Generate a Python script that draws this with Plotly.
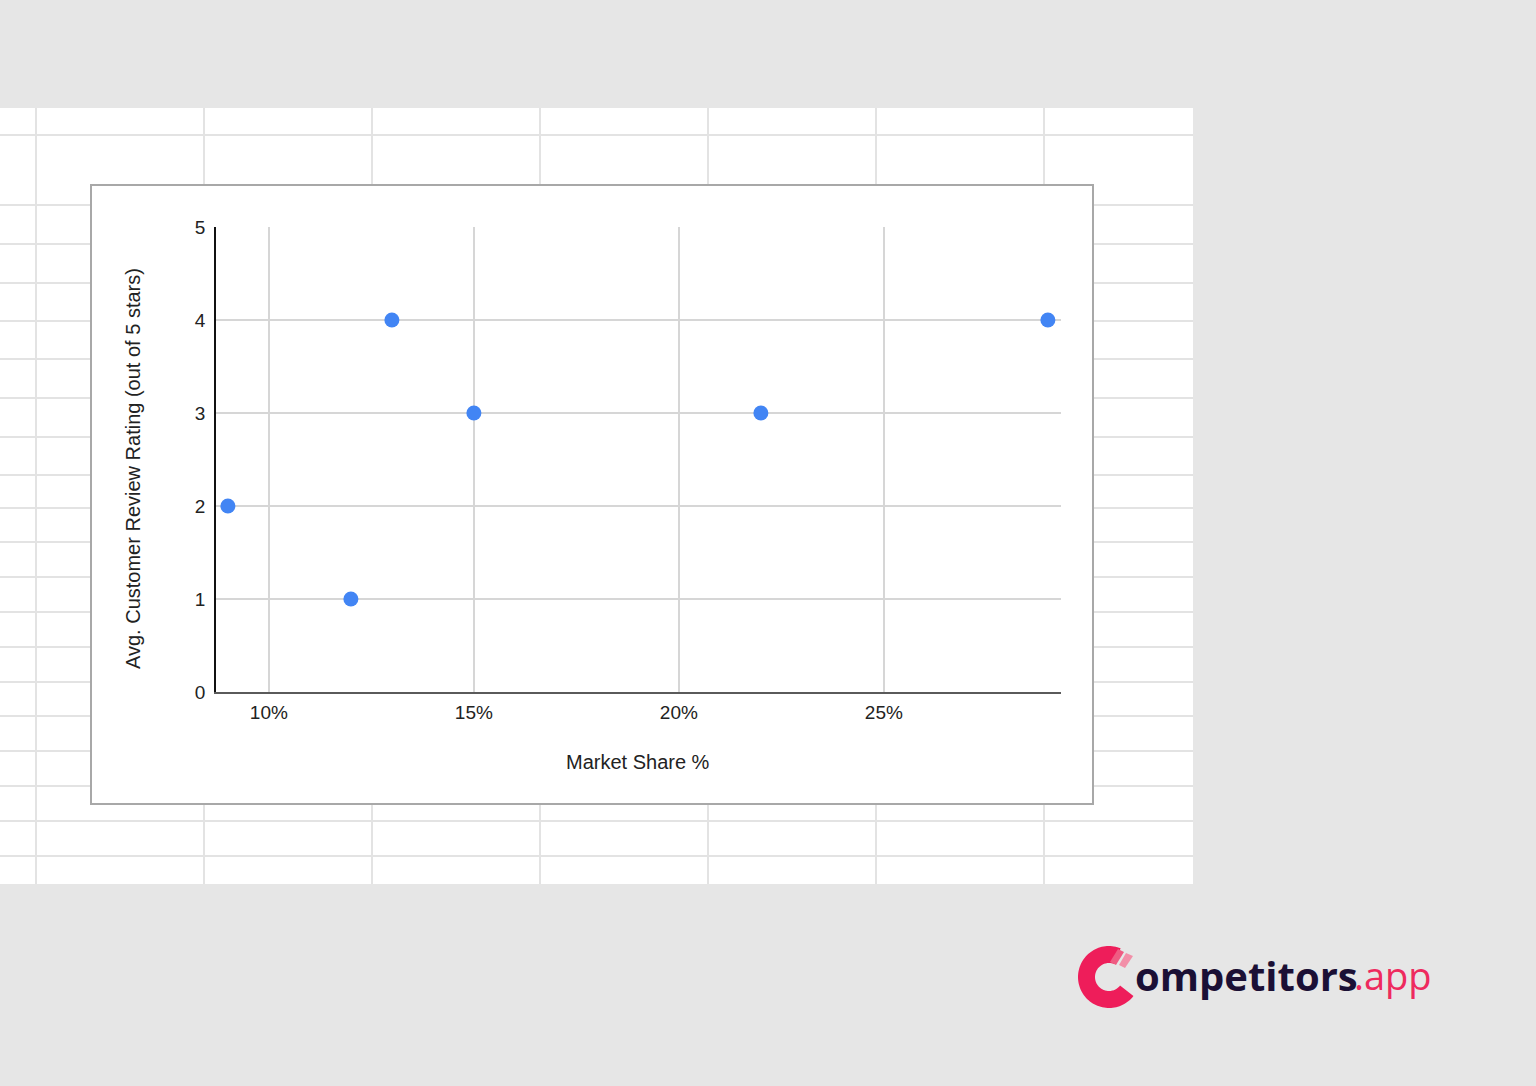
import numpy as np
import plotly.graph_objects as go

# ---- data ----
market_share = [9, 12, 13, 15, 22, 29]          # %
rating = [2, 1, 4, 3, 3, 4]                      # stars
x_tick_vals = [10, 15, 20, 25]
x_tick_text = ["10%", "15%", "20%", "25%"]
y_tick_vals = [0, 1, 2, 3, 4, 5]
x_title = "Market Share %"
y_title = "Avg. Customer Review Rating (out of 5 stars)"

W, H = 1536, 1086


def px(x):
    return x / W


def py(y):
    return 1 - y / H


shapes = []
# spreadsheet area
shapes.append(dict(type="rect", xref="paper", yref="paper", layer="below",
                   x0=px(0), x1=px(1193), y0=py(884), y1=py(108),
                   fillcolor="white", line=dict(width=0)))
for vx in [36, 204, 372, 540, 708, 876, 1044]:
    shapes.append(dict(type="line", xref="paper", yref="paper", layer="below",
                       x0=px(vx), x1=px(vx), y0=py(884), y1=py(108),
                       line=dict(color="#e3e3e3", width=2)))
for hy in [135, 205, 244, 283, 321, 359, 398, 437, 475, 508, 542, 577, 612,
           647, 682, 716, 751, 786, 821, 856]:
    shapes.append(dict(type="line", xref="paper", yref="paper", layer="below",
                       x0=px(0), x1=px(1193), y0=py(hy), y1=py(hy),
                       line=dict(color="#e3e3e3", width=2)))
# chart box
shapes.append(dict(type="rect", xref="paper", yref="paper", layer="below",
                   x0=px(91), x1=px(1093), y0=py(804), y1=py(185),
                   fillcolor="white", line=dict(color="#a8a8a8", width=2)))


# logo "C"
def pth(points):
    s = "M " + " L ".join(f"{px(a):.6f},{py(b):.6f}" for a, b in points) + " Z"
    return s


cx, cy, ro, ri = 1109, 977, 31, 14
a0, a1 = np.deg2rad(68), np.deg2rad(360 - 38)
angs = np.linspace(a0, a1, 80)
outer = [(cx + ro * np.cos(a), cy - ro * np.sin(a)) for a in angs]
inner = [(cx + ri * np.cos(a), cy - ri * np.sin(a)) for a in angs[::-1]]
shapes.append(dict(type="path", xref="paper", yref="paper", layer="above",
                   path=pth(outer + inner), fillcolor="#ee1d5a", line=dict(width=0)))
shapes.append(dict(type="path", xref="paper", yref="paper", layer="above",
                   path=pth([(1110, 962), (1118, 949), (1124, 952), (1116, 965)]),
                   fillcolor="#ef5b82", line=dict(width=0)))
shapes.append(dict(type="path", xref="paper", yref="paper", layer="above",
                   path=pth([(1119, 965), (1126, 953), (1133, 956), (1125, 968)]),
                   fillcolor="#f28fa8", line=dict(width=0)))

fig = go.Figure()
fig.add_trace(go.Scatter(
    x=market_share, y=rating, mode="markers",
    marker=dict(color="#4285f4", size=15, line=dict(width=0)),
    showlegend=False))

tick_font = dict(family="Liberation Sans, Arial, sans-serif", size=19, color="#222222")
title_font = dict(family="Liberation Sans, Arial, sans-serif", size=20, color="#222222")
logo_family = "Open Sans, Noto Sans, sans-serif"

fig.update_layout(
    width=W, height=H,
    margin=dict(l=0, r=0, t=0, b=0, pad=0, autoexpand=False),
    paper_bgcolor="#e6e6e6",
    plot_bgcolor="rgba(0,0,0,0)",
    shapes=shapes,
    xaxis=dict(domain=[px(216), px(1061)], range=[8.71, 29.32],
               tickvals=x_tick_vals, ticktext=x_tick_text, automargin=False,
               showgrid=True, gridcolor="#d6d6d6", gridwidth=1.5,
               zeroline=False, showline=True, linecolor="#5a5a5a", linewidth=2,
               ticks="outside", ticklen=2, tickcolor="rgba(0,0,0,0)",
               tickfont=tick_font, fixedrange=True),
    yaxis=dict(domain=[py(692), py(227)], range=[0, 5],
               tickvals=y_tick_vals, automargin=False,
               showgrid=True, gridcolor="#d6d6d6", gridwidth=1.5,
               zeroline=False, showline=True, linecolor="#111111", linewidth=1.5,
               ticks="outside", ticklen=5, tickcolor="rgba(0,0,0,0)",
               tickfont=tick_font, fixedrange=True),
    annotations=[
        dict(text=x_title, xref="paper", yref="paper", x=px(638), y=py(762),
             showarrow=False, font=title_font, xanchor="center", yanchor="middle"),
        dict(text=y_title, xref="paper", yref="paper", x=px(133), y=py(469),
             showarrow=False, font=title_font, textangle=-90,
             xanchor="center", yanchor="middle"),
        dict(text="<b>ompetitors</b>",
             xref="paper", yref="paper", x=px(1133), y=py(975),
             showarrow=False, xanchor="left", yanchor="middle",
             font=dict(family=logo_family, size=40, color="#1b1035")),
        dict(text=".app",
             xref="paper", yref="paper", x=px(1434), y=py(975),
             showarrow=False, xanchor="right", yanchor="middle",
             font=dict(family=logo_family, size=38, color="#ee2a5e")),
    ],
)

fig.write_html("out.html", config={"displayModeBar": False},
               post_script="document.body.style.margin='0px';"
                           "document.body.style.overflow='hidden';")
